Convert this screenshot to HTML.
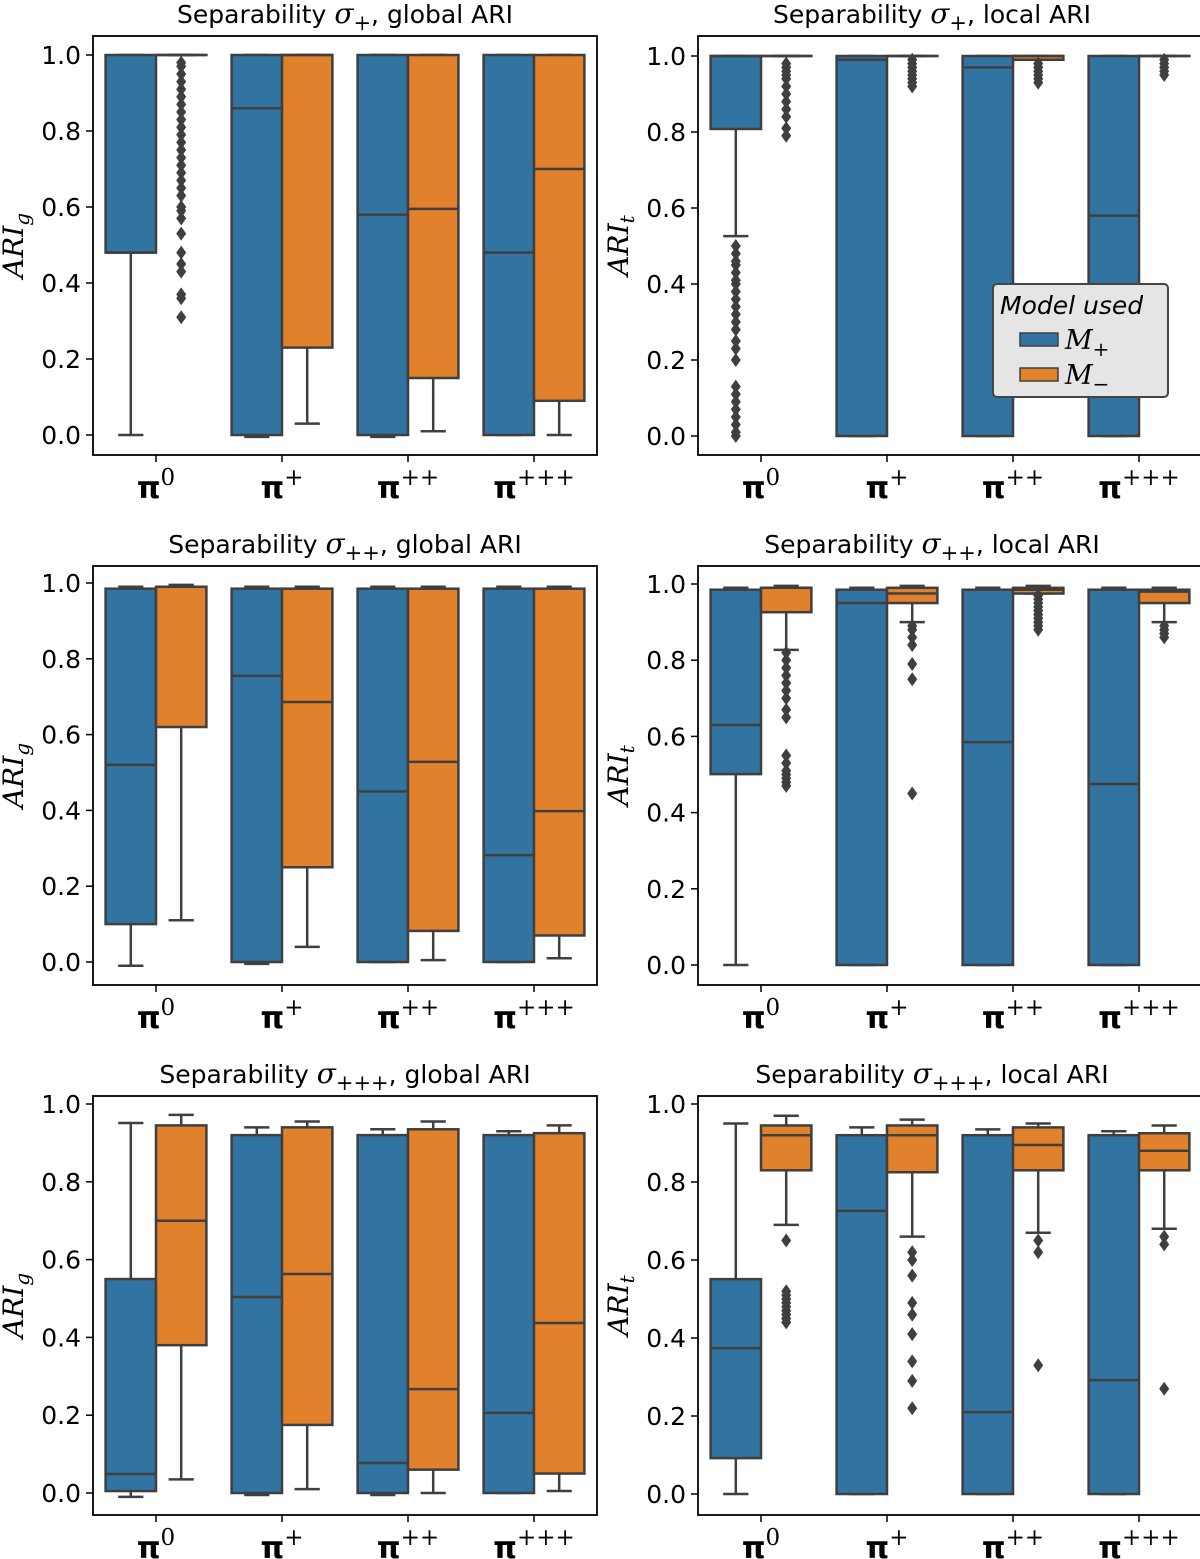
<!DOCTYPE html>
<html><head><meta charset="utf-8"><style>
html,body{margin:0;padding:0;background:#fff;}
svg{display:block;font-family:"DejaVu Sans","Liberation Sans",sans-serif;}
</style></head><body>
<svg id="fig" width="1200" height="1559" viewBox="0 0 1200 1559" xmlns="http://www.w3.org/2000/svg"></svg>
<script>
// Data: each box = [whiskerLow, q1, median, q3, whiskerHigh]
const groups = ["0", "+", "++", "+++"];
const tickValues = [0.0, 0.2, 0.4, 0.6, 0.8, 1.0];
const tickLabels = ["0.0", "0.2", "0.4", "0.6", "0.8", "1.0"];

const p1Blue = [[0,0.48,0.48,1,1],[-0.005,0,0.86,1,1],[-0.005,0,0.58,1,1],[0,0,0.48,1,1]];
const p1Orange = [[1,1,1,1,1],[0.03,0.23,1,1,1],[0.01,0.15,0.595,1,1],[0,0.09,0.70,1,1]];
const p1OutBlue = [[],[],[],[]];
const p1OutOrange = [[0.98,0.97,0.95,0.93,0.91,0.89,0.87,0.85,0.83,0.81,0.79,0.77,0.75,0.73,0.71,0.69,0.67,0.65,0.63,0.60,0.59,0.57,0.53,0.48,0.45,0.43,0.37,0.36,0.31],[],[],[]];

const p2Blue = [[0.526,0.808,1,1,1],[0,0,0.99,1,1],[0,0,0.97,1,1],[0,0,0.58,1,1]];
const p2Orange = [[1,1,1,1,1],[1,1,1,1,1],[0.99,0.99,1,1,1],[1,1,1,1,1]];
const p2OutBlue = [[0.50,0.48,0.46,0.45,0.43,0.41,0.40,0.38,0.36,0.34,0.32,0.30,0.28,0.25,0.23,0.20,0.13,0.11,0.09,0.07,0.05,0.03,0.01,0.0],[],[],[]];
const p2OutOrange = [[0.98,0.97,0.96,0.95,0.94,0.92,0.90,0.88,0.86,0.84,0.81,0.79],[0.99,0.98,0.97,0.96,0.95,0.94,0.93,0.92],[0.98,0.97,0.96,0.95,0.94,0.93],[0.99,0.98,0.97,0.96,0.95]];

const p3Blue = [[-0.01,0.10,0.52,0.985,0.99],[-0.005,0,0.755,0.985,0.99],[0,0,0.45,0.985,0.99],[0,0,0.282,0.985,0.99]];
const p3Orange = [[0.11,0.62,0.99,0.99,0.995],[0.04,0.25,0.686,0.985,0.99],[0.005,0.082,0.528,0.985,0.99],[0.01,0.07,0.398,0.985,0.99]];
const p3OutBlue = [[],[],[],[]];
const p3OutOrange = [[],[],[],[]];

const p4Blue = [[0,0.501,0.63,0.985,0.99],[0,0,0.95,0.985,0.99],[0,0,0.585,0.985,0.99],[0,0,0.475,0.985,0.99]];
const p4Orange = [[0.827,0.926,0.99,0.99,0.995],[0.90,0.95,0.975,0.99,0.995],[0.975,0.975,0.985,0.99,0.995],[0.90,0.95,0.98,0.985,0.99]];
const p4OutBlue = [[],[],[],[]];
const p4OutOrange = [[0.82,0.80,0.78,0.76,0.74,0.72,0.70,0.67,0.65,0.55,0.53,0.51,0.50,0.49,0.48,0.47],[0.89,0.88,0.86,0.84,0.79,0.75,0.45],[0.97,0.96,0.95,0.94,0.93,0.92,0.91,0.90,0.89,0.88],[0.89,0.88,0.87,0.86]];

const p5Blue = [[-0.01,0.005,0.049,0.55,0.951],[-0.005,0,0.504,0.92,0.94],[-0.005,0,0.077,0.92,0.935],[0,0,0.206,0.92,0.93]];
const p5Orange = [[0.035,0.38,0.70,0.945,0.972],[0.01,0.175,0.563,0.94,0.955],[0,0.06,0.267,0.935,0.955],[0.005,0.05,0.437,0.925,0.945]];
const p5OutBlue = [[],[],[],[]];
const p5OutOrange = [[],[],[],[]];

const p6Blue = [[0,0.092,0.374,0.551,0.95],[0,0,0.726,0.92,0.94],[0,0,0.21,0.92,0.935],[0,0,0.292,0.92,0.93]];
const p6Orange = [[0.69,0.83,0.92,0.945,0.97],[0.66,0.825,0.92,0.945,0.96],[0.67,0.83,0.895,0.94,0.95],[0.68,0.83,0.88,0.925,0.945]];
const p6OutBlue = [[],[],[],[]];
const p6OutOrange = [[0.65,0.52,0.51,0.50,0.49,0.48,0.47,0.46,0.45,0.44],[0.62,0.60,0.56,0.49,0.46,0.41,0.34,0.29,0.22],[0.65,0.62,0.33],[0.66,0.64,0.27]];

const NS = "http://www.w3.org/2000/svg";
const svg = document.getElementById("fig");
const BLUE = "#3274a1", ORANGE = "#e1812c", LINE = "#3f3f3f";

function mk(tag, attrs, parent) {
  const e = document.createElementNS(NS, tag);
  for (const k in attrs) e.setAttribute(k, attrs[k]);
  (parent || svg).appendChild(e);
  return e;
}

const panels = [
  {x0:93, top:36, bot:455, y0:435, y1:55, sub:"+", kind:"global", ylab:"g", blue:p1Blue, orange:p1Orange, ob:p1OutBlue, oo:p1OutOrange, name:"panel-sigma-plus-global"},
  {x0:698, top:36, bot:455, y0:436, y1:56, sub:"+", kind:"local", ylab:"t", blue:p2Blue, orange:p2Orange, ob:p2OutBlue, oo:p2OutOrange, name:"panel-sigma-plus-local"},
  {x0:93, top:566, bot:985, y0:962, y1:583, sub:"++", kind:"global", ylab:"g", blue:p3Blue, orange:p3Orange, ob:p3OutBlue, oo:p3OutOrange, name:"panel-sigma-plusplus-global"},
  {x0:698, top:566, bot:985, y0:965, y1:584, sub:"++", kind:"local", ylab:"t", blue:p4Blue, orange:p4Orange, ob:p4OutBlue, oo:p4OutOrange, name:"panel-sigma-plusplus-local"},
  {x0:93, top:1096, bot:1515, y0:1493, y1:1104, sub:"+++", kind:"global", ylab:"g", blue:p5Blue, orange:p5Orange, ob:p5OutBlue, oo:p5OutOrange, name:"panel-sigma-plusplusplus-global"},
  {x0:698, top:1096, bot:1515, y0:1494, y1:1104, sub:"+++", kind:"local", ylab:"t", blue:p6Blue, orange:p6Orange, ob:p6OutBlue, oo:p6OutOrange, name:"panel-sigma-plusplusplus-local"}
];

const W = 504, GW = W / 4, BW = GW * 0.8 / 2;

panels.forEach((p, pi) => {
  const g = mk("g", {});
  
  
  const ys = v => p.y0 - (p.y0 - p.y1) * v;
  const xc = i => p.x0 + GW * (i + 0.5);

  function drawBox(b, left, color, outs, nm) {
    const bg = mk("g", {}, g);
    
    
    const mid = left + BW / 2;
    const cap = BW / 4;
    mk("line", {x1:mid, x2:mid, y1:ys(b[0]), y2:ys(b[1]), stroke:LINE, "stroke-width":2.5}, bg);
    mk("line", {x1:mid, x2:mid, y1:ys(b[3]), y2:ys(b[4]), stroke:LINE, "stroke-width":2.5}, bg);
    mk("line", {x1:mid-cap, x2:mid+cap, y1:ys(b[0]), y2:ys(b[0]), stroke:LINE, "stroke-width":2.5}, bg);
    mk("line", {x1:mid-cap, x2:mid+cap, y1:ys(b[4]), y2:ys(b[4]), stroke:LINE, "stroke-width":2.5}, bg);
    const yt = ys(b[3]), yb = ys(b[1]);
    mk("rect", {x:left, y:yt, width:BW, height:Math.max(yb-yt,0.01), fill:color, stroke:LINE, "stroke-width":2.5}, bg);
    mk("line", {x1:left, x2:left+BW, y1:ys(b[2]), y2:ys(b[2]), stroke:LINE, "stroke-width":2.5}, bg);
    outs.forEach(v => {
      const y = ys(v);
      const d = mk("path", {d:`M${mid} ${y-7} L${mid+5} ${y} L${mid} ${y+7} L${mid-5} ${y} Z`, fill:LINE}, bg);
      
      
    });
  }
  for (let i = 0; i < 4; i++) {
    const c = xc(i);
    drawBox(p.blue[i], c - BW, BLUE, p.ob[i], "box-m-plus-" + i);
    drawBox(p.orange[i], c, ORANGE, p.oo[i], "box-m-minus-" + i);
  }

  const fr = mk("rect", {x:p.x0, y:p.top, width:W, height:p.bot-p.top, fill:"none", stroke:"#000", "stroke-width":1.8}, g);
  
  

  tickValues.forEach((v, k) => {
    const y = ys(v);
    mk("line", {x1:p.x0-7, x2:p.x0, y1:y, y2:y, stroke:"#000", "stroke-width":1.5}, g);
    const t = mk("text", {x:p.x0-12, y:y+9, "text-anchor":"end", "font-size":25, fill:"#000"}, g);
    t.textContent = tickLabels[k];
    
    
  });
  groups.forEach((gr, i) => {
    const x = xc(i);
    mk("line", {x1:x, x2:x, y1:p.bot, y2:p.bot+7, stroke:"#000", "stroke-width":1.5}, g);
    const t = mk("text", {x:x, y:p.bot+43, "text-anchor":"middle", fill:"#000"}, g);
    
    
    const a = mk("tspan", {"font-size":30, "font-weight":"bold", "font-family":"DejaVu Sans, Liberation Sans, sans-serif"}, t);
    a.textContent = "π";
    const b = mk("tspan", {"font-size":23, dy:-13, "font-family":"DejaVu Serif, Liberation Serif, serif"}, t);
    b.textContent = gr;
  });
  const tt = mk("text", {x:p.x0 + (pi % 2 ? 234 : 252), y:p.top-13, "text-anchor":"middle", "font-size":25, fill:"#000"}, g);
  
  
  const s1 = mk("tspan", {}, tt); s1.textContent = "Separability ";
  const s2 = mk("tspan", {"font-style":"italic", "font-family":"DejaVu Serif, Liberation Serif, serif", "font-size":28}, tt); s2.textContent = "σ";
  const s3 = mk("tspan", {"font-size":21, dy:7, "font-family":"DejaVu Serif, serif"}, tt); s3.textContent = p.sub;
  const s4 = mk("tspan", {dy:-7}, tt); s4.textContent = ", " + p.kind + " ARI";
  const cy = (p.top + p.bot) / 2;
  const yl = mk("text", {x:0, y:0, transform:`translate(${p.x0-70},${cy}) rotate(-90)`, "text-anchor":"middle", "font-size":28, "font-style":"italic", "font-family":"DejaVu Serif, Liberation Serif, serif", fill:"#000"}, g);
  
  
  const y1 = mk("tspan", {}, yl); y1.textContent = "ARI";
  const y2 = mk("tspan", {"font-size":20, dy:6}, yl); y2.textContent = p.ylab;
});

const lg = mk("g", {});


mk("rect", {x:993, y:284, width:175, height:113, rx:4, fill:"#e5e5e5", stroke:"#444", "stroke-width":2}, lg);
const lt = mk("text", {x:1000, y:314, "font-size":25, "font-style":"italic", fill:"#000"}, lg);
lt.textContent = "Model used";


[[BLUE, "+", 340], [ORANGE, "−", 375]].forEach(([c, s, y]) => {
  const e = mk("g", {}, lg);
  
  
  mk("rect", {x:1020, y:y-7, width:38, height:13, fill:c, stroke:LINE, "stroke-width":1.5}, e);
  const t = mk("text", {x:1065, y:y+9, "font-size":27, "font-style":"italic", "font-family":"DejaVu Serif, Liberation Serif, serif", fill:"#000"}, e);
  const a = mk("tspan", {}, t); a.textContent = "M";
  const b = mk("tspan", {"font-size":20, dy:7, "font-style":"normal"}, t); b.textContent = s;
});
</script>
</body></html>
